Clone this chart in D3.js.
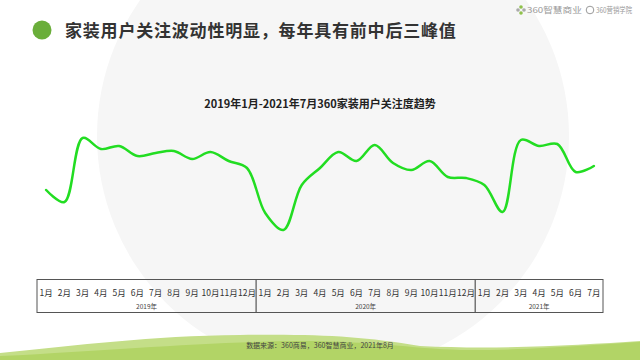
<!DOCTYPE html>
<html><head><meta charset="utf-8">
<script src="https://cdn.jsdelivr.net/npm/d3@7"></script>
<style>
html,body{margin:0;padding:0;background:#fff;}
svg{display:block;font-family:"Noto Sans CJK SC","Noto Sans",sans-serif;}
</style></head>
<body>
<svg id="c" width="640" height="360"></svg>
<script>
const years = ["2019年","2020年","2021年"];
const monthsPerYear = [12,12,7];
const monthLabels = ["1月","2月","3月","4月","5月","6月","7月","8月","9月","10月","11月","12月"];
const values = [60,48,112,101,104,94,97,99,91,98,89,82,
                37,20,65,82,98,89,105,87,80,89,73,72,
                65,38,110,104,106,78,84];
const title = "家装用户关注波动性明显，每年具有前中后三峰值";
const subtitle = "2019年1月-2021年7月360家装用户关注度趋势";
const source = "数据来源：360商易，360智慧商业，2021年8月";

(function(){
const svg = d3.select("#c");

// background circle
svg.append("circle").attr("cx",333).attr("cy",136).attr("r",236).attr("fill","#f6f6f6");

// bottom green bands
svg.append("path").attr("fill","#c4de88")
  .attr("d","M0,353 C80,345 150,336 240,335 C320,334 360,336 420,346 C500,350 580,345 640,341 L640,360 L0,360 Z");
svg.append("path").attr("fill","#b2d466")
  .attr("d","M0,356 C120,350 200,342 300,341 C380,341 420,350 470,350 C540,350 600,344 640,342 L640,360 L0,360 Z");

// title
svg.append("circle").attr("cx",42).attr("cy",30).attr("r",9.5).attr("fill","#6aae3a");
svg.append("text").attr("x",65).attr("y",37).attr("font-size",17).attr("font-weight","bold")
  .attr("fill","#333").attr("letter-spacing",0.8).text(title);

// logos
const lg = svg.append("g").attr("fill","#999").attr("font-size",8);
[[-1,0],[1,0],[0,-1],[0,1]].forEach(([dx,dy])=>{
  lg.append("circle").attr("cx",521+dx*3).attr("cy",10+dy*3).attr("r",1.8).attr("fill",dy===0?"#aaa":"#8fc14a");
});
lg.append("text").attr("x",527).attr("y",13).attr("textLength",55).attr("lengthAdjust","spacingAndGlyphs").text("360智慧商业");
lg.append("circle").attr("cx",590).attr("cy",10).attr("r",3.8).attr("fill","none").attr("stroke","#999").attr("stroke-width",1);
lg.append("text").attr("x",596).attr("y",13).attr("textLength",36).attr("lengthAdjust","spacingAndGlyphs").text("360营销学院");

// subtitle
svg.append("text").attr("x",320).attr("y",108).attr("text-anchor","middle").attr("font-size",11)
  .attr("font-weight","bold").attr("fill","#222").text(subtitle);

// scales
const n = values.length;
const left = 37, right = 603;
const x = d3.scaleBand().domain(d3.range(n)).range([left,right]).padding(0);
const y = d3.scaleLinear().domain([0,120]).range([250,130]);

const line = d3.line().x((d,i)=>x(i)+x.bandwidth()/2).y(d=>y(d)).curve(d3.curveCatmullRom.alpha(0.5));
svg.append("path").datum(values).attr("d",line).attr("fill","none").attr("stroke","#22dd22")
  .attr("stroke-width",2.5).attr("stroke-linejoin","round").attr("stroke-linecap","round");

// axis box
const boxTop = 279.5, boxBottom = 312.5;
svg.append("rect").attr("x",left).attr("y",boxTop).attr("width",right-left).attr("height",boxBottom-boxTop)
  .attr("fill","none").attr("stroke","#555").attr("stroke-width",1);
let idx = 0;
years.forEach((yr,k)=>{
  const cnt = monthsPerYear[k];
  const x0 = x(idx), x1 = x(idx+cnt-1)+x.bandwidth();
  if (k>0) svg.append("line").attr("x1",x0).attr("x2",x0).attr("y1",boxTop).attr("y2",boxBottom).attr("stroke","#555").attr("stroke-width",1.2);
  for (let m=0;m<cnt;m++){
    svg.append("text").attr("x",x(idx+m)+x.bandwidth()/2).attr("y",296).attr("text-anchor","middle")
      .attr("font-size",8.5).attr("fill","#333").text(monthLabels[m]);
  }
  svg.append("text").attr("x",(x0+x1)/2).attr("y",308.5).attr("text-anchor","middle")
    .attr("font-size",6.5).attr("fill","#444").text(yr);
  idx += cnt;
});

// source
svg.append("text").attr("x",320).attr("y",348).attr("text-anchor","middle").attr("font-size",7)
  .attr("fill","#444").text(source);
})();
</script>
</body></html>
